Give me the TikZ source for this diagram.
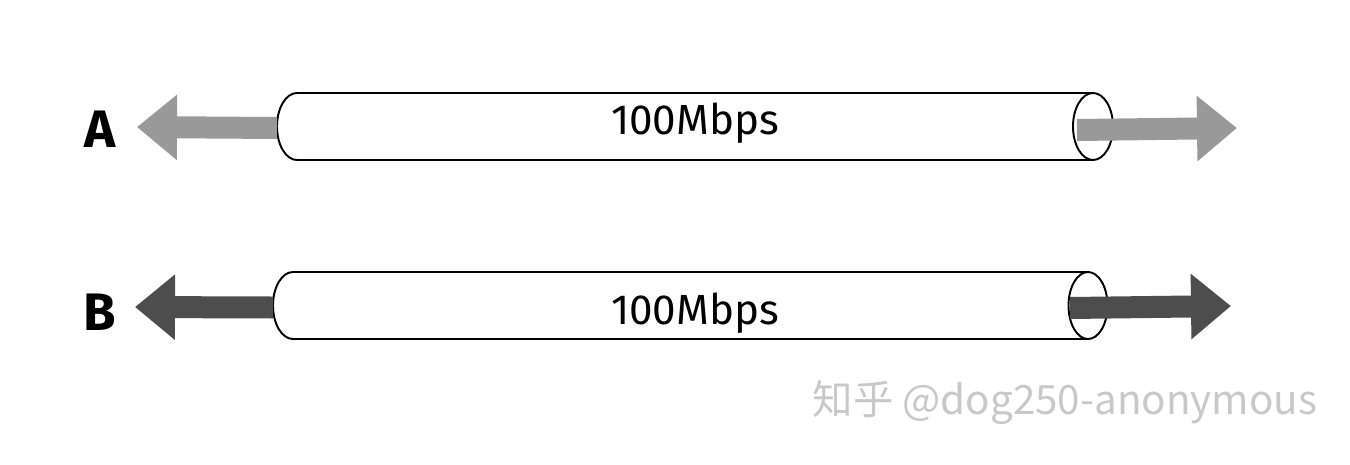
\documentclass[tikz,border=0pt]{standalone}
\usepackage{fontspec}
\setmainfont{Fira Sans}
\newfontfamily\cjkfont{Noto Sans CJK SC}
\usetikzlibrary{arrows.meta}
\definecolor{lightflow}{HTML}{999999}
\definecolor{darkflow}{HTML}{4D4D4D}
\definecolor{markgray}{HTML}{C8C8C8}
\begin{document}
\begin{tikzpicture}[
    x=0.02cm, y=0.02cm,
    pipe/.style={draw, line width=1.1pt, fill=white},
    flow/.style={line width=0.44cm, -{Triangle[length=0.8cm, width=1.26cm]}},
    rate/.style={font=\fontsize{24}{28}\selectfont},
    tag/.style={font=\fontsize{30}{34}\selectfont\bfseries}
]
    \useasboundingbox (0,0) rectangle (1350,-464);

    % pipe A
    \coordinate (pipeAleft) at (277,-128);
    \coordinate (pipeAend) at (1093,-126.5);
    \coordinate (tipAleft) at (137,-127);
    \coordinate (tipAright) at (1237,-128);
    \draw[pipe] (1093,-93) -- (297,-93) arc[start angle=90, end angle=270, x radius=20, y radius=33.5] -- (1093,-160);
    \draw[pipe] (pipeAend) ellipse [x radius=20, y radius=33.5];
    \node[rate] (rateA) at (695,-123) {100Mbps};
    \node[tag] (tagA) at (100,-129) {A};
    \draw[flow, lightflow] (pipeAleft) -- (tipAleft);
    \draw[flow, lightflow] (1077,-130) -- (tipAright);

    % pipe B
    \coordinate (pipeBleft) at (273,-307.5);
    \coordinate (pipeBend) at (1088,-305.5);
    \coordinate (tipBleft) at (135,-307);
    \coordinate (tipBright) at (1231,-306);
    \draw[pipe] (1088,-272) -- (293,-272) arc[start angle=90, end angle=270, x radius=20, y radius=33.5] -- (1088,-339);
    \draw[pipe] (pipeBend) ellipse [x radius=19.5, y radius=33.5];
    \node[rate] (rateB) at (695,-313) {100Mbps};
    \node[tag] (tagB) at (100,-312) {B};
    \draw[flow, darkflow] (pipeBleft) -- (tipBleft);
    \draw[flow, darkflow] (1070,-308) -- (tipBright);

    \node[markgray, font=\cjkfont\fontsize{23}{27}\selectfont] (mark) at (1065,-403) {知乎 @dog250-anonymous};
\end{tikzpicture}
\end{document}
